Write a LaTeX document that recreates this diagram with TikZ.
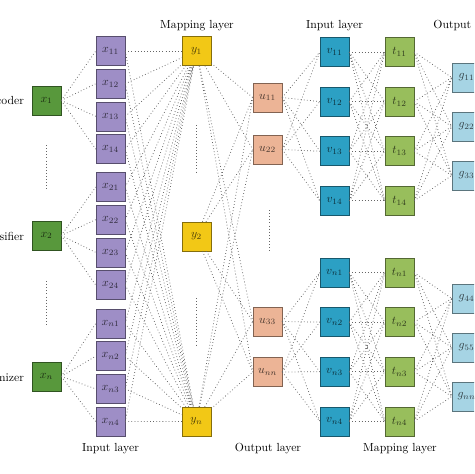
\documentclass[tikz,border=0pt]{standalone}
\usepackage{tikz}
\definecolor{xgreen}{RGB}{88,152,60}
\definecolor{xpurple}{RGB}{158,142,198}
\definecolor{yyellow}{RGB}{242,200,22}
\definecolor{uorange}{RGB}{236,180,150}
\definecolor{vblue}{RGB}{44,160,196}
\definecolor{tgreen}{RGB}{152,190,92}
\definecolor{gblue}{RGB}{166,212,228}
\begin{document}
\begin{tikzpicture}[x=0.03cm,y=-0.03cm,
        cell/.style={draw=#1!55!black,fill=#1,minimum size=0.87cm,inner sep=0pt,text=#1!30!black},
        link/.style={dotted,gray!80!black,line width=0.65pt},
        layertext/.style={anchor=base}]
        \useasboundingbox (0,0) rectangle (474,474);
        \clip (0,0) rectangle (474,474);
        %green inputs
        \node[cell=xgreen] (x1) at (46.5,100.5) {$x_1$};
        \node[cell=xgreen] (x2) at (46.5,235.5) {$x_2$};
        \node[cell=xgreen] (xn) at (46.5,376.5) {$x_n$};
        \node[anchor=base east] (enc) at (28,104) {Encoder};
        \node[anchor=base east] (cls) at (28,240) {Classifier};
        \node[anchor=base east] (opt) at (28,381) {Optimizer};
        %first input layer
        \foreach \g/\top in {1/51,2/187,n/323.5}
            \foreach \k in {1,...,4}
                \node[cell=xpurple] (x\g\k) at (110.5,{\top+32.7*(\k-1)}) {$x_{\g\k}$};
        %mapping layer
        \node[cell=yyellow] (y1) at (196.5,51) {$y_1$};
        \node[cell=yyellow] (y2) at (196.5,236.5) {$y_2$};
        \node[cell=yyellow] (yn) at (196.5,421.5) {$y_n$};
        %output layer
        \node[cell=uorange] (u11) at (267.5,97.5) {$u_{11}$};
        \node[cell=uorange] (u22) at (267.5,149.5) {$u_{22}$};
        \node[cell=uorange] (u33) at (267.5,321.5) {$u_{33}$};
        \node[cell=uorange] (unn) at (267.5,372) {$u_{nn}$};
        %second input and mapping layers
        \foreach \g/\top in {1/52,n/272.5}
            \foreach \k in {1,...,4} {
                \node[cell=vblue] (v\g\k) at (334.5,{\top+49.6*(\k-1)}) {$v_{\g\k}$};
                \node[cell=tgreen] (t\g\k) at (399.5,{\top+49.6*(\k-1)}) {$t_{\g\k}$};
            }
        %last output layer
        \node[cell=gblue] (g11) at (466.5,77.5) {$g_{11}$};
        \node[cell=gblue] (g22) at (466.5,126.5) {$g_{22}$};
        \node[cell=gblue] (g33) at (466.5,175.5) {$g_{33}$};
        \node[cell=gblue] (g44) at (466.5,298.5) {$g_{44}$};
        \node[cell=gblue] (g55) at (466.5,347.5) {$g_{55}$};
        \node[cell=gblue] (gnn) at (466.5,396.5) {$g_{nn}$};
        %layer names
        \node[layertext] (map1) at (197,28) {Mapping layer};
        \node[layertext] (in2) at (334.5,28) {Input layer};
        \node[layertext] (out2) at (466.5,28) {Output layer};
        \node[layertext] (in1) at (110.5,451) {Input layer};
        \node[layertext] (out1) at (268,451) {Output layer};
        \node[layertext] (map2) at (400,451) {Mapping layer};
        %connections
        \foreach \g/\s in {1/x1,2/x2,n/xn}
            \foreach \k in {1,...,4}
                \draw[link] (\s.east) -- (x\g\k.west);
        \foreach \g in {1,2,n}
            \foreach \k in {1,...,4} {
                \draw[link] (x\g\k.east) -- (y1);
                \draw[link] (x\g\k.east) -- (yn);
            }
        \foreach \a in {y1,y2,yn}
            \foreach \b in {u11,u22,u33,unn}
                \draw[link] (\a) -- (\b.west);
        \foreach \a in {u11,u22}
            \foreach \k in {1,...,4}
                \draw[link] (\a.east) -- (v1\k.west);
        \foreach \a in {u33,unn}
            \foreach \k in {1,...,4}
                \draw[link] (\a.east) -- (vn\k.west);
        \foreach \g in {1,n}
            \foreach \i in {1,...,4}
                \foreach \j in {1,...,4}
                    \draw[link] (v\g\i.east) -- (t\g\j.west);
        \foreach \i in {1,...,4}
            \foreach \b in {g11,g22,g33}
                \draw[link] (t1\i.east) -- (\b.west);
        \foreach \i in {1,...,4}
            \foreach \b in {g44,g55,gnn}
                \draw[link] (tn\i.east) -- (\b.west);
        %dots between groups
        \draw[link] (46.5,145) -- (46.5,190);
        \draw[link] (46.5,281) -- (46.5,327);
        \draw[link] (196.5,125) -- (196.5,172);
        \draw[link] (196.5,298) -- (196.5,345);
        \draw[link] (269,210) -- (269,251);
    \end{tikzpicture}
\end{document}
